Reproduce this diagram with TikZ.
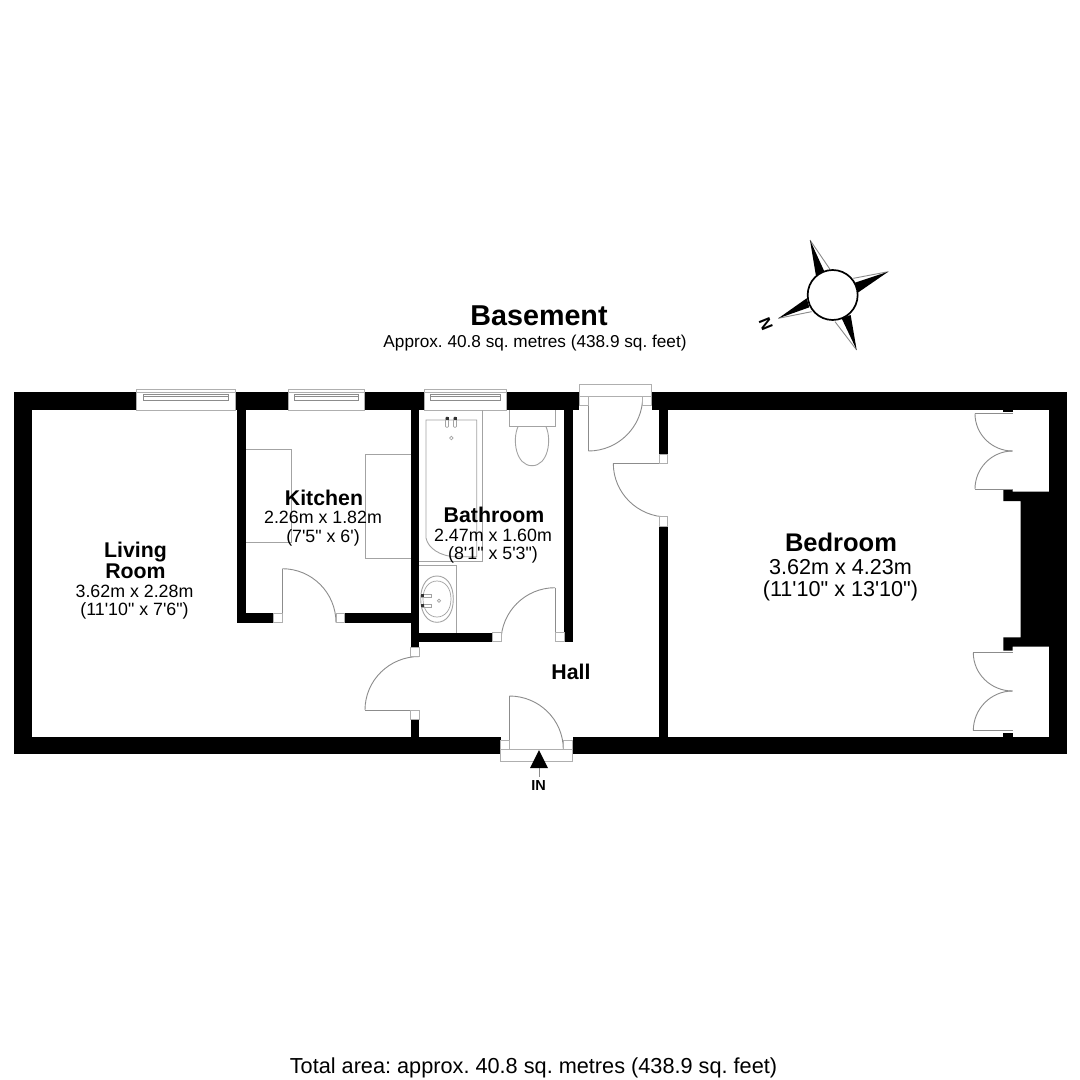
\documentclass[tikz,border=0pt]{standalone}
\usepackage{fontspec}
\newfontfamily\lf{Liberation Sans}
\frenchspacing
\usetikzlibrary{calc}
\definecolor{ln}{gray}{0.55}
\tikzset{
 dl/.style={draw=ln,line width=0.9pt},
 fx/.style={draw=ln!80,line width=0.9pt},
 stub/.style={draw=ln!70,fill=white,line width=0.8pt},
 nm/.style={anchor=base,inner sep=0pt,font=\lf\bfseries\fontsize{#1}{#1}\selectfont},
 dm/.style={anchor=base,inner sep=0pt,font=\lf\fontsize{#1}{#1}\selectfont}
}
\newcommand\qa[3]{\draw[dl] (#1) .. controls ($(#1)!.5523!(#2)$) and ($(#3)!.5523!(#2)$) .. (#3);}
\newcommand\winx[2]{%
 \fill[white] (#1,389) rectangle (#2,410);
 \draw[dl,draw=ln!70] (#1,389) rectangle (#2,410);
 \draw[dl,draw=ln!70] (#1,392) -- (#2,392);
 \draw[dl,line width=0.7pt] ($(#1,394)+(6.5,0)$) rectangle ($(#2,400.7)+(-6.5,0)$);
 \draw[dl,line width=0.7pt] ($(#1,396.8)+(6.5,0)$) -- ($(#2,396.8)+(-6.5,0)$);
}
\begin{document}
\begin{tikzpicture}[x=1pt,y=-1pt]
\useasboundingbox[fill=white] (0,0) rectangle (1080,1080);
% shell
\fill[black] (14,392) rectangle (1067.3,754);
\fill[white] (32.3,410) rectangle (1048.7,737);
% chimney breast
\fill[black] (1003.3,490)--(1012.7,490)--(1012.7,491.7)--(1052,491.7)--(1052,646.7)--(1012.7,646.7)--(1012.7,650.7)--(1003.3,650.7)--(1003.3,637.3)--(1020.7,637.3)--(1020.7,501)--(1003.3,501)--cycle;
\fill[black] (1003.3,408) rectangle (1012.7,411.7);
\fill[black] (1003.3,733) rectangle (1012.7,739);
% inner walls
\fill[black] (237.3,408) rectangle (246.3,622.7);
\fill[black] (237.3,613.3) rectangle (273.3,622.7);
\fill[black] (344.7,613.3) rectangle (412,622.7);
\fill[black] (410.7,408) rectangle (419.3,647);
\fill[black] (410.7,719.3) rectangle (419.3,739);
\fill[black] (419,632.7) rectangle (492.3,641.7);
\fill[black] (564,408) rectangle (573,641.7);
\fill[black] (659,408) rectangle (667.7,454.3);
\fill[black] (659,526) rectangle (667.7,739);
% windows
\winx{136.7}{235}
\winx{288.3}{364.7}
\winx{424.3}{506.7}
% kitchen units
\draw[fx] (246.3,449) -- (291.7,449) -- (291.7,542.3) -- (246.3,542.3);
\draw[fx] (411,454.7) -- (365.7,454.7) -- (365.7,558.7) -- (411,558.7);
% bath
\draw[fx] (419.3,561.7) -- (482.7,561.7) -- (482.7,410);
\draw[fx] (476.7,556.7) -- (476.7,420) -- (426,420) -- (426,538) .. controls (428,548) and (440,556.7) .. (457,556.7) -- cycle;
\draw[fx,line width=0.7pt,rounded corners=1pt] (445.5,417) rectangle (448.5,427.3);
\draw[fx,line width=0.7pt,rounded corners=1pt] (453.5,417) rectangle (456.5,427.3);
\fill[black!80] (445.5,416.5) rectangle (448.5,419.5);
\fill[black!80] (453.5,416.5) rectangle (456.5,419.5);
\draw[fx,line width=0.7pt] (451.3,438) circle[radius=1.8];
% toilet
\draw[fx] (509,410) -- (509,426.7) -- (555,426.7) -- (555,410);
\draw[fx] (518,426.7) .. controls (512,440) and (516,465.7) .. (532,465.7) .. controls (548,465.7) and (552,440) .. (546,426.7);
% basin
\draw[fx] (419.3,565) -- (456.7,565) -- (456.7,632.7);
\draw[fx] (420.7,599) .. controls (420.7,584) and (428,576) .. (437,576) .. controls (446,576) and (453.3,584) .. (453.3,599) .. controls (453.3,614) and (446,622.3) .. (437,622.3) .. controls (428,622.3) and (420.7,614) .. (420.7,599) -- cycle;
\draw[fx,line width=0.7pt] (423,599) .. controls (423,588) and (429,581) .. (437,581) .. controls (445,581) and (451,588) .. (451,599) .. controls (451,610) and (445,617) .. (437,617) .. controls (429,617) and (423,610) .. (423,599) -- cycle;
\draw[fx,line width=0.7pt] (421.5,594.2) rectangle (431,597.2);
\draw[fx,line width=0.7pt] (421.5,604) rectangle (431,607);
\fill[black!80] (421,594.2) rectangle (424,597.2);
\fill[black!80] (421,604) rectangle (424,607);
\draw[fx,line width=0.7pt] (439,600.7) circle[radius=1.6];
% doors
\draw[dl] (282.3,568.7) -- (282.3,622.7);
\qa{282.3,568.7}{336,568.7}{336,622.7}
\draw[stub] (273.3,613.3) rectangle (282.3,622.7);
\draw[stub] (336,613.3) rectangle (344.7,622.7);
\draw[dl] (555,587.7) -- (555,641.7);
\qa{555,587.7}{501,587.7}{501,641.7}
\draw[stub] (492.3,632.7) rectangle (501,641.7);
\draw[stub] (555,632.7) rectangle (564,641.7);
\draw[dl] (365,710) -- (419.3,710);
\qa{365,710}{365,656.5}{419.3,656.5}
\draw[stub] (410.7,647) rectangle (419.3,656.5);
\draw[stub] (410.7,710) rectangle (419.3,719.3);
% entry door
\fill[white] (500.7,737) rectangle (572.7,754.5);
\draw[stub] (500.7,749.3) rectangle (572.7,761.7);
\draw[dl] (509.3,696) -- (509.3,749.3);
\qa{509.3,696}{563.3,696}{563.3,749.3}
\draw[stub] (500.7,740.7) rectangle (509.3,749.3);
\draw[stub] (563.3,740.7) rectangle (572.7,749.3);
% top door
\fill[white] (579.3,391) rectangle (651.7,410.5);
\draw[stub] (579.3,384.3) rectangle (651.7,396.7);
\draw[dl] (588.3,396.7) -- (588.3,451);
\qa{588.3,451}{642.7,451}{642.7,396.7}
\draw[stub] (579.3,396.7) rectangle (588.3,405.7);
\draw[stub] (642.7,396.7) rectangle (651.7,405.7);
% bedroom door
\draw[dl] (613.3,463.3) -- (667.7,463.3);
\qa{613.3,463.3}{613.3,517}{667.7,517}
\draw[stub] (659,454.3) rectangle (667.7,463.3);
\draw[stub] (659,516.7) rectangle (667.7,526);
% wardrobe doors
\draw[dl] (1012.7,413.7) -- (975,413.7);
\qa{975,413.7}{975,451}{1012.7,451}
\qa{1012.7,451}{975,451}{975,489}
\draw[dl] (975,489) -- (1012.7,489);
\draw[dl] (1012.7,652.7) -- (973.3,652.7);
\qa{973.3,652.7}{973.3,691}{1012.7,691}
\qa{1012.7,691}{973.3,691}{973.3,730.7}
\draw[dl] (973.3,730.7) -- (1012.7,730.7);
% in arrow
\draw[line width=0.7pt,draw=ln] (539,768) -- (539,777);
\fill[black] (539,750) -- (548,768) -- (530,768) -- cycle;
\node[nm=14.5] (inLabel) at (538.5,790.5) {IN};
% compass
\begin{scope}[shift={(740,230)},x=0.3333pt,y=-0.3333pt]
\draw[draw=ln,line width=0.9pt] (210,30) -- (270,118) (445,125) -- (340,145) (350,360) -- (285,275) (115,265) -- (215,245);
\fill[black] (210,30) -- (228,138) -- (252,122) -- cycle;
\fill[black] (445,125) -- (345,158) -- (355,187) -- cycle;
\fill[black] (350,360) -- (305,265) -- (332,255) -- cycle;
\fill[black] (115,265) -- (200,205) -- (208,232) -- cycle;
\draw[black,fill=white,line width=1.7pt] (278,195) circle[radius=75];
\node[nm=16.5,rotate=112,anchor=center] (north) at (78,281) {N};
\end{scope}
% labels
\node[nm=28.7] (title) at (539,325.5) {Basement};
\node[dm=17.2] (sub) at (535,347.5) {Approx. 40.8 sq. metres (438.9 sq. feet)};
\node[dm=21.7] (foot) at (533.5,1073.5) {Total area: approx. 40.8 sq. metres (438.9 sq. feet)};
\node[nm=21.3] (lv1) at (135.5,557.5) {Living};
\node[nm=21.3] (lv2) at (135.5,578.5) {Room};
\node[dm=17.8] (lv3) at (134.5,597) {3.62m x 2.28m};
\node[dm=17.8] (lv4) at (134.5,615) {(11'10" x 7'6")};
\node[nm=21.3] (kt1) at (324,505) {Kitchen};
\node[dm=17.8] (kt2) at (323,523.4) {2.26m x 1.82m};
\node[dm=17.8] (kt3) at (323,542) {(7'5" x 6')};
\node[nm=21.3] (bt1) at (494,522.7) {Bathroom};
\node[dm=17.8] (bt2) at (493,541.3) {2.47m x 1.60m};
\node[dm=17.8] (bt3) at (493,559.5) {(8'1" x 5'3")};
\node[nm=21.3] (hall) at (571,679.5) {Hall};
\node[nm=25.5] (bd1) at (841,551) {Bedroom};
\node[dm=21.6] (bd2) at (840.5,574) {3.62m x 4.23m};
\node[dm=21.6] (bd3) at (840.5,596) {(11'10" x 13'10")};
\end{tikzpicture}
\end{document}
